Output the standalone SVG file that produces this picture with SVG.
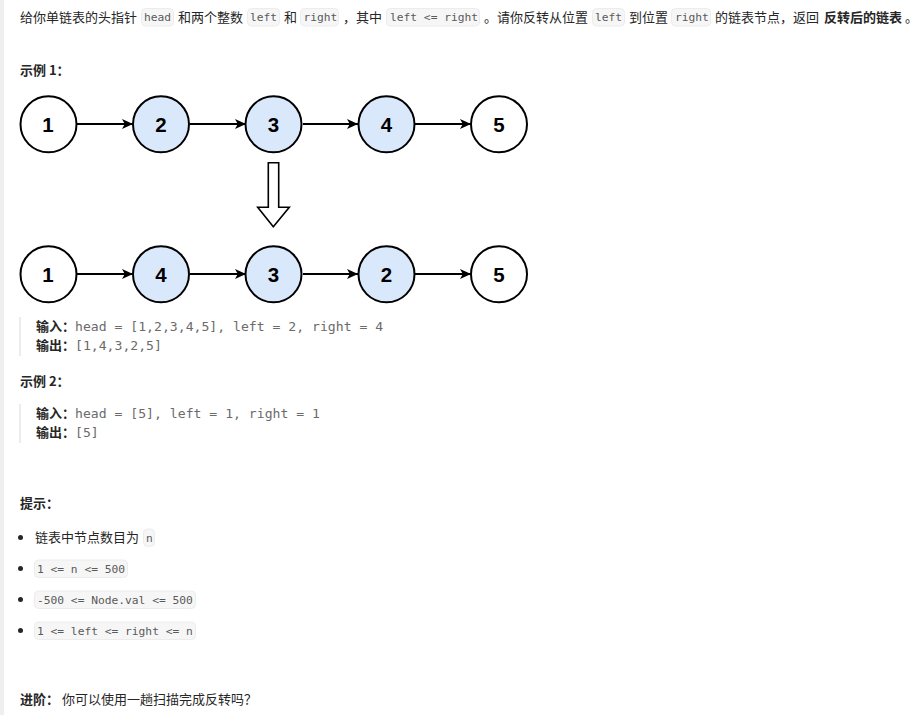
<svg xmlns="http://www.w3.org/2000/svg" width="921" height="715" viewBox="0 0 921 715">
<style>
text{font-family:"Noto Sans CJK SC","Liberation Sans",sans-serif;font-size:13px;fill:#262626}
.b{font-weight:700}
.c{font-family:"DejaVu Sans Mono","Noto Sans CJK SC",monospace;font-size:11.25px;fill:#5a5a5a}
.p{font-family:"DejaVu Sans Mono","Noto Sans CJK SC",monospace;font-size:13.13px;fill:#6b6b6b}
.k{fill:#f6f6f6;stroke:#ececec;stroke-width:1}
.n circle{stroke:#000;stroke-width:2}
.w{fill:#fff}
.u{fill:#dae8fc}
.n text{font-family:"Liberation Sans",Arial,sans-serif;font-size:20.5px;font-weight:700;fill:#000;text-anchor:middle}
.l{stroke:#000;stroke-width:1.8;fill:none;marker-end:url(#a)}
.q{stroke:#e6e6e6;stroke-width:1.5}
</style>
<defs><marker id="a" markerUnits="userSpaceOnUse" markerWidth="12" markerHeight="10" refX="11" refY="5" orient="auto"><path d="M0 0L11 5L0 10L2.800 5Z" fill="#000"/></marker></defs>
<rect width="921" height="715" fill="#fff"/>
<rect x="0" y="0" width="4" height="715" fill="#efefef"/>
<g id="intro">
<rect class="k" x="141.500" y="8.500" width="32" height="17.500" rx="4"/>
<rect class="k" x="247.500" y="8.500" width="32" height="17.500" rx="4"/>
<rect class="k" x="300.500" y="8.500" width="38" height="17.500" rx="4"/>
<rect class="k" x="386.500" y="8.500" width="93" height="17.500" rx="4"/>
<rect class="k" x="592.500" y="8.500" width="32" height="17.500" rx="4"/>
<rect class="k" x="671.500" y="8.500" width="39" height="17.500" rx="4"/>
<text x="20" y="21.500">给你单链表的头指针</text>
<text class="c" x="144" y="21">head</text>
<text x="178" y="21.500">和两个整数</text>
<text class="c" x="250" y="21">left</text>
<text x="284" y="21.500">和</text>
<text class="c" x="303.500" y="21">right</text>
<text x="343" y="21.500">，其中</text>
<text class="c" x="390" y="21">left &lt;= right</text>
<text x="484" y="21.500">。请你反转从位置</text>
<text class="c" x="595" y="21">left</text>
<text x="629" y="21.500">到位置</text>
<text class="c" x="675" y="21">right</text>
<text x="715" y="21.500">的链表节点，返回</text>
<text class="b" x="824" y="21.500">反转后的链表</text>
<text x="905" y="21.500">。</text>
</g>
<text class="b" x="20" y="75">示例 1：</text>
<g id="connectors">
<path class="l" d="M77 124H133"/><path class="l" d="M190 124H246"/><path class="l" d="M303 124H358"/><path class="l" d="M415 124H471"/>
<path class="l" d="M77 274H133"/><path class="l" d="M190 274H246"/><path class="l" d="M303 274H358"/><path class="l" d="M415 274H471"/>
</g>
<g id="arrow"><path d="M268.300 162.700H278.700V207.300H289.300L273.300 226.700L257.700 207.300H268.300Z" fill="#fff" stroke="#000" stroke-width="1.600"/></g>
<g id="n1" class="n"><circle class="w" cx="48.500" cy="124.300" r="28"/><text x="48" y="131.500">1</text></g>
<g id="n2" class="n"><circle class="u" cx="161" cy="124.300" r="28"/><text x="161" y="131.500">2</text></g>
<g id="n3" class="n"><circle class="u" cx="273.500" cy="124.300" r="28"/><text x="273.500" y="131.500">3</text></g>
<g id="n4" class="n"><circle class="u" cx="386.500" cy="124.300" r="28"/><text x="386.500" y="131.500">4</text></g>
<g id="n5" class="n"><circle class="w" cx="499" cy="124.300" r="28"/><text x="499" y="131.500">5</text></g>
<g id="m1" class="n"><circle class="w" cx="48.500" cy="274.300" r="28"/><text x="48" y="281.500">1</text></g>
<g id="m4" class="n"><circle class="u" cx="161" cy="274.300" r="28"/><text x="161" y="281.500">4</text></g>
<g id="m3" class="n"><circle class="u" cx="273.500" cy="274.300" r="28"/><text x="273.500" y="281.500">3</text></g>
<g id="m2" class="n"><circle class="u" cx="386.500" cy="274.300" r="28"/><text x="386.500" y="281.500">2</text></g>
<g id="m5" class="n"><circle class="w" cx="499" cy="274.300" r="28"/><text x="499" y="281.500">5</text></g>
<g id="ex1">
<line class="q" x1="20" y1="317" x2="20" y2="356"/>
<text class="b" x="36" y="331">输入：</text><text class="p" x="75" y="331">head = [1,2,3,4,5], left = 2, right = 4</text>
<text class="b" x="36" y="350">输出：</text><text class="p" x="75" y="350">[1,4,3,2,5]</text>
</g>
<text class="b" x="20" y="386">示例 2：</text>
<g id="ex2">
<line class="q" x1="20" y1="404" x2="20" y2="443"/>
<text class="b" x="36" y="418">输入：</text><text class="p" x="75" y="418">head = [5], left = 1, right = 1</text>
<text class="b" x="36" y="437">输出：</text><text class="p" x="75" y="437">[5]</text>
</g>
<text class="b" x="20" y="508">提示：</text>
<g id="hints">
<circle cx="20.500" cy="537.500" r="2.500" fill="#262626"/>
<circle cx="20.500" cy="568.500" r="2.500" fill="#262626"/>
<circle cx="20.500" cy="599.500" r="2.500" fill="#262626"/>
<circle cx="20.500" cy="630.500" r="2.500" fill="#262626"/>
<text x="35" y="542">链表中节点数目为</text>
<rect class="k" x="143.500" y="529" width="11" height="17.500" rx="4"/><text class="c" x="146" y="541.500">n</text>
<rect class="k" x="34.500" y="560" width="93" height="17.500" rx="4"/><text class="c" x="37" y="572.500">1 &lt;= n &lt;= 500</text>
<rect class="k" x="34.500" y="591" width="161" height="17.500" rx="4"/><text class="c" x="37" y="603.500">-500 &lt;= Node.val &lt;= 500</text>
<rect class="k" x="34.500" y="622" width="161" height="17.500" rx="4"/><text class="c" x="37" y="634.500">1 &lt;= left &lt;= right &lt;= n</text>
</g>
<text class="b" x="20" y="704">进阶：</text><text x="62" y="704">你可以使用一趟扫描完成反转吗？</text>
</svg>
